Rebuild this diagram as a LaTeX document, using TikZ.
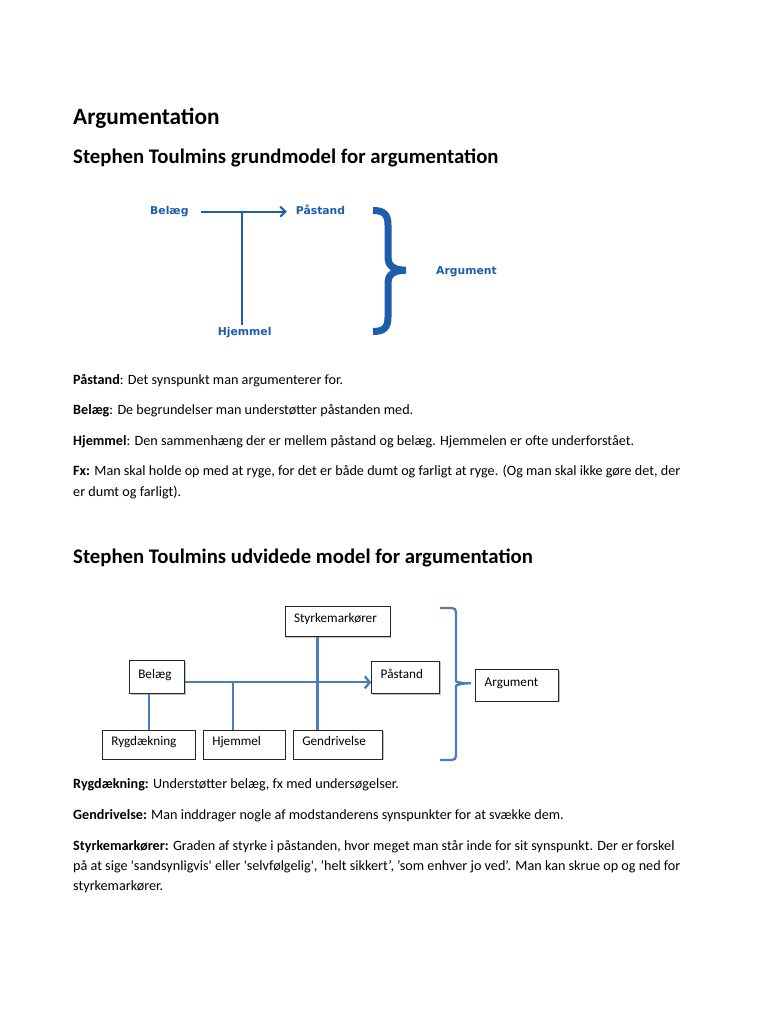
\documentclass[tikz,border=0pt]{standalone}
\usepackage{fontspec}
\setmainfont{Carlito}
\newfontfamily\verdlike{DejaVu Sans}
\usetikzlibrary{arrows.meta,shadows}
\definecolor{tblue}{HTML}{1E5DAA}
\definecolor{lblue}{HTML}{4A7EBB}
\newcommand\bodysz{\fontsize{14.17}{18}\selectfont}
\newcommand\hone{\fontsize{23.3}{26}\selectfont\bfseries}
\newcommand\htwo{\fontsize{20.75}{24}\selectfont\bfseries}
\newcommand\boxsz{\fontsize{13.2}{16}\selectfont}
\tikzset{
  bodyline/.style={anchor=base west, inner sep=0pt, font=\bodysz},
  head1/.style={anchor=base west, inner sep=0pt, font=\hone},
  head2/.style={anchor=base west, inner sep=0pt, font=\htwo},
  tlabel/.style={anchor=base west, inner sep=0pt, text=tblue, font=\verdlike\bfseries\fontsize{10.8}{13}\selectfont, text height=8pt, text depth=2.2pt},
  tline/.style={draw=tblue, line width=2pt},
  tarrow/.style={tline, -{Straight Barb[length=5pt,width=10pt,line width=2pt]}},
  mbox/.style={draw=black!85, line width=0.9pt, fill=white, font=\boxsz, align=left, inner xsep=9pt, inner ysep=0pt, text height=9pt, text depth=7pt,
    drop shadow={shadow xshift=1.3pt, shadow yshift=-1.3pt, fill=black!30, opacity=0.8}},
  mline/.style={draw=lblue, line width=2.3pt},
  marrow/.style={mline, -{Straight Barb[length=5pt,width=12pt,line width=2.3pt]}},
}
\begin{document}
\begin{tikzpicture}[x=1pt,y=-1pt]
\useasboundingbox[fill=white] (0,0) rectangle (768,1024);
% headings
\node[head1] (h1) at (73,125) {Argumentation};
\node[head2] (h2) at (73,164) {Stephen Toulmins grundmodel for argumentation};
\node[head2] (h3) at (73,563) {Stephen Toulmins udvidede model for argumentation};
% top diagram
\node[tlabel] (tbel) at (150,214.6) {Belæg};
\node[tlabel] (tpas) at (295.7,214.6) {Påstand};
\node[tlabel] (thj) at (217.7,335.6) {Hjemmel};
\node[tlabel] (targ) at (436,274.6) {Argument};
\draw[tarrow] ([xshift=12pt]tbel.east) -- ([xshift=-9pt]tpas.west);
\coordinate (tj) at (242.3,211.7);
\draw[tline] (tj) -- ([yshift=2.6pt]tj |- thj.north);
\draw[draw=tblue, line width=7pt, line cap=butt]
  (373,210.5) .. controls (383.5,210.5) and (388,214) .. (388,225) -- (388,258)
  .. controls (388,265) and (393,270.2) .. (406,270.2)
  .. controls (393,270.2) and (388,275.5) .. (388,282) -- (388,317)
  .. controls (388,328) and (383.5,331.5) .. (373,331.5);
% body text 1
\node[bodyline] (p1) at (73,384) {\textbf{Påstand}: Det synspunkt man argumenterer for.};
\node[bodyline] (p2) at (73,414.5) {\textbf{Belæg}: De begrundelser man understøtter påstanden med.};
\node[bodyline] (p3) at (73,445) {\textbf{Hjemmel}: Den sammenhæng der er mellem påstand og belæg. Hjemmelen er ofte underforstået.};
\node[bodyline] (p4) at (73,475.5) {\textbf{Fx:} Man skal holde op med at ryge, for det er både dumt og farligt at ryge. (Og man skal ikke gøre det, der};
\node[bodyline] (p4b) at (73,496) {er dumt og farligt).};
% extended diagram
\node[mbox, text width=105pt-18pt, minimum height=30pt] (sty) at (337.5,621.7) {Styrkemarkører};
\node[mbox, text width=55pt-18pt, minimum height=32.6pt] (bel) at (156.8,677) {Belæg};
\node[mbox, text width=67.6pt-18pt, minimum height=32.3pt] (pas) at (405.5,677.2) {Påstand};
\node[mbox, text width=82.6pt-18pt, minimum height=31.7pt] (arg) at (517,685.2) {Argument};
\node[mbox, text width=92.7pt-18pt, minimum height=29pt] (ryg) at (148.7,744.5) {Rygdækning};
\node[mbox, text width=81.7pt-18pt, minimum height=29pt] (hje) at (244.2,744.5) {Hjemmel};
\node[mbox, text width=89pt-18pt, minimum height=29pt] (gen) at (337.8,744.5) {Gendrivelse};
\coordinate (ay) at ([yshift=-5.3pt]bel.east);
\draw[mline] ([xshift=-11pt]hje.north) -- ([xshift=-11pt]hje.north |- ay);
\draw[mline] ([xshift=-19.9pt]sty.south) -- ([xshift=-19.9pt]sty.south |- gen.north);
\draw[mline] (ryg.north) -- (ryg.north |- bel.south);
\draw[marrow] (ay) -- (ay -| pas.west);
\draw[mline, rounded corners=4pt] (440,608) -- (456,608) -- (456,677)
  .. controls (456,682) and (461,683.3) .. (473.5,683.3)
  .. controls (461,683.3) and (456,685) .. (456,690) -- (456,760) -- (440,760);
% body text 2
\node[bodyline] (q1) at (73,788) {\textbf{Rygdækning:} Understøtter belæg, fx med undersøgelser.};
\node[bodyline] (q2) at (73,819) {\textbf{Gendrivelse:} Man inddrager nogle af modstanderens synspunkter for at svække dem.};
\node[bodyline] (q3) at (73,850) {\textbf{Styrkemarkører:} Graden af styrke i påstanden, hvor meget man står inde for sit synspunkt. Der er forskel};
\node[bodyline] (q3b) at (73,870) {på at sige \textquotesingle sandsynligvis\textquotesingle{} eller \textquotesingle selvfølgelig\textquotesingle, ’helt sikkert’, ’som enhver jo ved’. Man kan skrue op og ned for};
\node[bodyline] (q3c) at (73,890.5) {styrkemarkører.};
\end{tikzpicture}
\end{document}
